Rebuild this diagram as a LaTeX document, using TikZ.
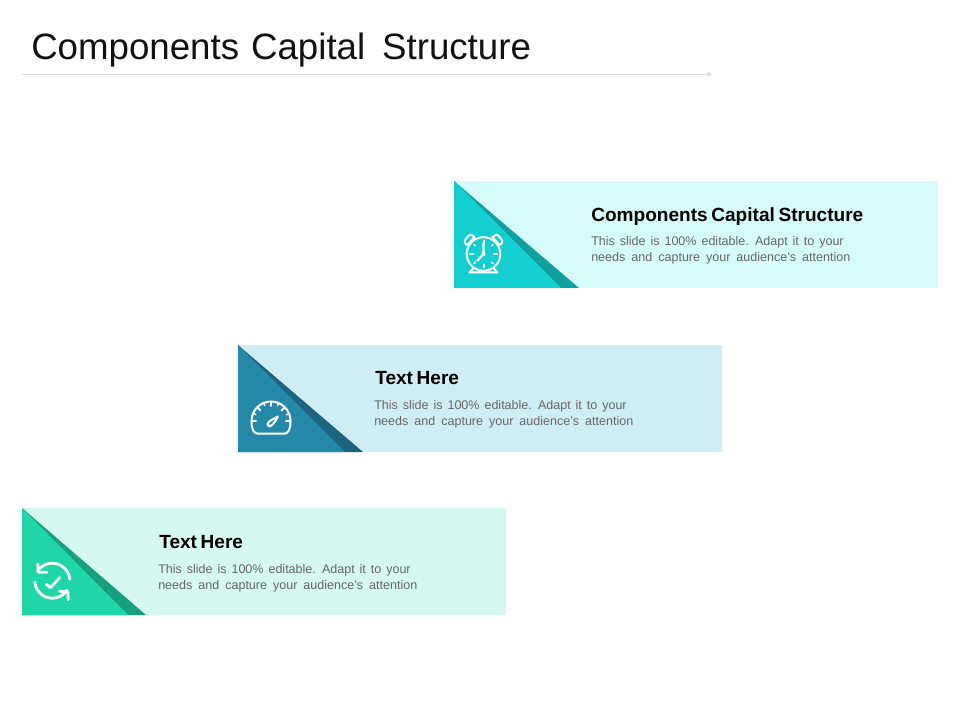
\documentclass[tikz,border=0pt]{standalone}
\usepackage{fontspec}
\setmainfont{Liberation Sans}
\definecolor{lightA}{HTML}{D5FBFB}\definecolor{mainA}{HTML}{14CFCF}\definecolor{darkA}{HTML}{119F9F}
\definecolor{lightB}{HTML}{CFEDF5}\definecolor{mainB}{HTML}{2488A8}\definecolor{darkB}{HTML}{1C6480}
\definecolor{lightC}{HTML}{D5F8F0}\definecolor{mainC}{HTML}{1ED6A8}\definecolor{darkC}{HTML}{17A080}
\definecolor{rulegray}{HTML}{DEDEDE}\definecolor{bodygray}{HTML}{666666}\definecolor{titleink}{HTML}{111111}
\newcommand\mylineonefont{\fontsize{9.4}{12}\selectfont\spaceskip 3.7pt\relax}
\newcommand\mylinetwofont{\fontsize{9.4}{12}\selectfont\spaceskip 4.5pt\relax}
\newcommand\myheadfont{\fontsize{14.3}{16}\selectfont\bfseries\spaceskip 2.7pt\relax}
\tikzset{
  titletext/.style={anchor=base west,inner sep=0pt,text=titleink,font=\fontsize{27.5}{30}\selectfont},
  headtext/.style={anchor=base west,inner sep=0pt,text=black,font=\myheadfont},
  bodyone/.style={anchor=base west,inner sep=0pt,text=bodygray,font=\mylineonefont},
  bodytwo/.style={anchor=base west,inner sep=0pt,text=bodygray,font=\mylinetwofont},
  iconline/.style={draw=white,line width=1.5pt,line cap=round,line join=round},
  iconfine/.style={draw=white,line width=1pt,line cap=round},
  iconbold/.style={draw=white,line width=2.1pt,line cap=round,line join=round},
}
\begin{document}
\begin{tikzpicture}[x=0.75pt,y=-0.75pt]
\useasboundingbox (0,0) rectangle (960,720);
\fill[white] (0,0) rectangle (960,720);
% title
\node[titletext] (title) at (31,59.5) {Components\hspace{9pt}Capital\hspace{12.7pt}Structure};
\coordinate (ruleL) at (22,74.3);
\coordinate (ruleR) at (709,74.3);
\draw[rulegray,line width=0.7pt] (ruleL) -- (ruleR);
\fill[rulegray] (ruleR) circle (2.2);
% card A
\fill[lightA] (454,181) rectangle (938,288);
\fill[darkA] (454,181) -- (579,288) -- (454,288) -- cycle;
\fill[mainA] (454,181) -- (561,288) -- (454,288) -- cycle;
\node[headtext] (headA) at (591,221.5) {Components Capital Structure};
\node[bodyone] (bodyA1) at (591,245.3) {This slide is 100\% editable. Adapt it to your};
\node[bodytwo] (bodyA2) at (591,261.6) {needs and capture your audience's attention};
% card B
\fill[lightB] (238,345) rectangle (722,452);
\fill[darkB] (238,345) -- (363,452) -- (238,452) -- cycle;
\fill[mainB] (238,345) -- (345,452) -- (238,452) -- cycle;
\node[headtext] (headB) at (375,384.5) {Text Here};
\node[bodyone] (bodyB1) at (374,409) {This slide is 100\% editable. Adapt it to your};
\node[bodytwo] (bodyB2) at (374,425.3) {needs and capture your audience's attention};
% card C
\fill[lightC] (22,508) rectangle (506,615);
\fill[darkC] (22,508) -- (146,615) -- (22,615) -- cycle;
\fill[mainC] (22,508) -- (128,615) -- (22,615) -- cycle;
\node[headtext] (headC) at (159,548.5) {Text Here};
\node[bodyone] (bodyC1) at (158,573) {This slide is 100\% editable. Adapt it to your};
\node[bodytwo] (bodyC2) at (158,589.3) {needs and capture your audience's attention};
% clock icon
\begin{scope}[shift={(483.5,254)}]
  \draw[iconline] (0,0) circle (16.8);
  \draw[iconline] (-18.5,-11) .. controls (-20,-13) and (-16,-18) .. (-13,-19.5) -- (-9,-17) -- (-16,-9) -- cycle;
  \draw[iconline] (18.5,-11) .. controls (20,-13) and (16,-18) .. (13,-19.5) -- (9,-17) -- (16,-9) -- cycle;
  \draw[iconline] (-10,14) -- (-14,18.5) -- (14,18.5) -- (10,14);
  \draw[iconbold,line width=1.7pt] (0,-11) -- (0,0) -- (-6,6.5);
  \fill[white] (0,0) circle (2);
  \foreach \a in {0,90,180,270}{\draw[iconline] (\a:10.5) -- (\a:13.5);}
  \foreach \a in {45,135,225,315}{\draw[iconfine] (\a:11.5) -- (\a:13.5);}
\end{scope}
% gauge icon
\begin{scope}[shift={(271,421)}]
  \draw[iconline] (-13,12.7) -- (13,12.7) .. controls (17,12.7) and (19.5,9) .. (19.5,0) arc (0:-180:19.5) .. controls (-19.5,9) and (-17,12.7) .. (-13,12.7) -- cycle;
  \foreach \a in {-180,-135,-90,-45,0}{\draw[iconline] (\a:19.5) -- (\a:15);}
  \foreach \a in {-157,-112,-67,-22}{\draw[iconfine] (\a:19.5) -- (\a:16.5);}
  \draw[iconline] (6.8,-4.5) .. controls (3,-2.5) and (-3.5,0.5) .. (-3.5,3.5) .. controls (-3.5,6) and (-0.5,6) .. (1,4) .. controls (3,2) and (5.5,-1) .. (6.8,-4.5) -- cycle;
\end{scope}
% cycle icon
\begin{scope}[shift={(52.3,580.7)}]
  \draw[iconbold] (212:17.5) arc (212:355:17.5);
  \draw[iconbold] (32:17.5) arc (32:175:17.5);
  \draw[iconbold] (-14.5,-17) -- (-14,-8.5) -- (-5.5,-8.5);
  \draw[iconbold] (16,19) -- (15.5,11) -- (7,10.5);
  \draw[iconbold] (-6,3.6) -- (-2,7) -- (7.4,-3);
\end{scope}
\end{tikzpicture}
\end{document}
